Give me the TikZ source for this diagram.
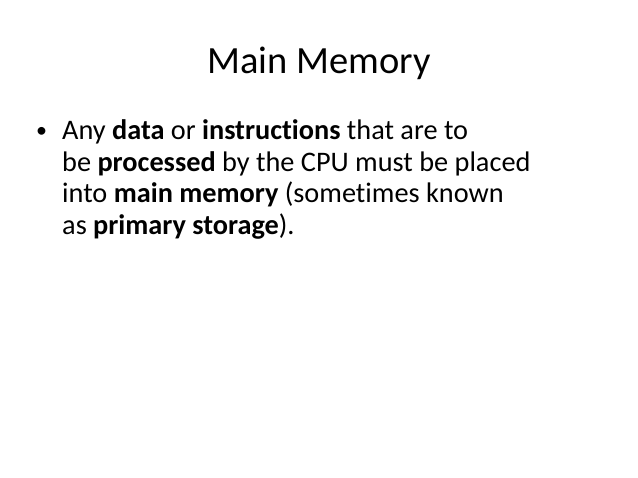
\documentclass[tikz,border=0pt]{standalone}
\usepackage{fontspec}
\setmainfont[Ligatures=NoCommon]{Carlito}
\begin{document}
\begin{tikzpicture}[x=1pt,y=-1pt,
  body/.style={anchor=base west,inner sep=0pt,font=\fontsize{28.3}{32}\selectfont}]
\useasboundingbox (0,0) rectangle (638,478);
\node[anchor=base,inner sep=0pt,font=\fontsize{38.5}{42}\selectfont] (title) at (319,74) {Main Memory};
\node[anchor=base west,inner sep=0pt,font=\fontsize{22}{26}\selectfont] (bullet) at (36,138) {•};
\node[body] (l1) at (62,140) {Any \textbf{data} or \textbf{instructions} that are to};
\node[body] (l2) at (62,171.5) {be \textbf{processed} by the CPU must be placed};
\node[body] (l3) at (62,203) {into \textbf{main memory} (sometimes known};
\node[body] (l4) at (62,234.5) {as \textbf{primary storage}).};
\end{tikzpicture}
\end{document}
